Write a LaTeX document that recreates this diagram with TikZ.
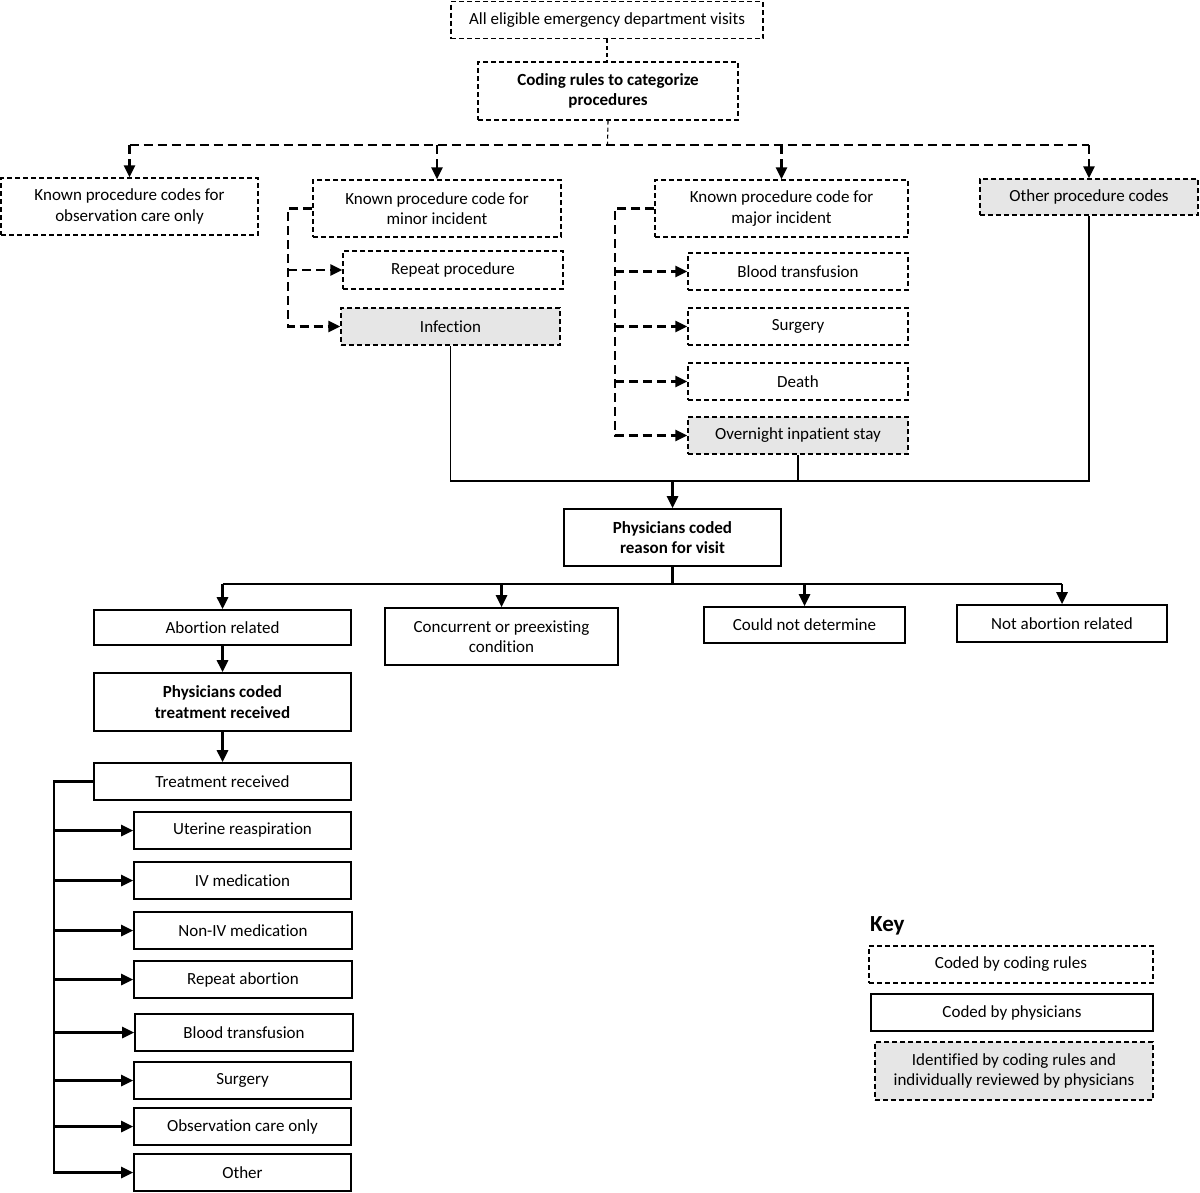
\documentclass[tikz,border=0pt]{standalone}
\usepackage{fontspec}
\setmainfont{Carlito}[Ligatures={NoCommon}]
\usetikzlibrary{arrows.meta}
\definecolor{boxgray}{HTML}{E6E6E6}
\tikzset{
  box/.style={draw=black, line width=1.4pt, inner sep=0pt, align=center,
    font=\fontsize{17}{20.5}\selectfont},
  dbox/.style={box, dash pattern=on 5pt off 3pt},
  gbox/.style={dbox, fill=boxgray},
  sbox/.style={box, line width=1.6pt},
  boldtxt/.style={font=\fontsize{17}{20.5}\selectfont\bfseries},
  tri/.style={-{Triangle[length=12pt,width=11pt]}},
  tdash/.style={line width=2.6pt, dash pattern=on 9pt off 5pt},
  thinline/.style={line width=1.1pt},
  thickline/.style={line width=2.6pt},
}
\begin{document}
\begin{tikzpicture}[x=1pt,y=-1pt]
\useasboundingbox (0,0) rectangle (1200,1192);
% top
\node[dbox, minimum width=312, minimum height=37] (top) at (607,20) {All eligible emergency department visits};
\node[dbox, boldtxt, minimum width=260, minimum height=58] (coding) at (608,91) {Coding rules to categorize\\procedures};
% level 2
\node[dbox, minimum width=257, minimum height=57] (obs) at (129.5,206.5) {Known procedure codes for\\observation care only};
\node[dbox, minimum width=248, minimum height=57] (minor) at (437,208.5) {Known procedure code for\\minor incident};
\node[dbox, minimum width=220, minimum height=38] (repeat) at (453,270) {Repeat procedure};
\node[gbox, minimum width=219, minimum height=37] (infection) at (450.5,326.5) {Infection};
\node[dbox, minimum width=253, minimum height=57] (major) at (781.5,208.5) {Known procedure code for\\major incident};
\node[dbox, minimum width=220, minimum height=37] (blood) at (798,271.5) {Blood transfusion};
\node[dbox, minimum width=220, minimum height=37] (surgery) at (798,326.5) {Surgery};
\node[dbox, minimum width=220, minimum height=37] (death) at (798,381.5) {Death};
\node[gbox, minimum width=220, minimum height=37] (overnight) at (798,435.5) {Overnight inpatient stay};
\node[gbox, minimum width=218, minimum height=36] (other) at (1089,197) {Other procedure codes};
% physicians
\node[sbox, boldtxt, minimum width=217, minimum height=57] (phys) at (672.5,537.5) {Physicians coded\\reason for visit};
\node[sbox, minimum width=257, minimum height=35] (abortion) at (222.5,627.5) {Abortion related};
\node[sbox, minimum width=233, minimum height=57] (concurrent) at (501.5,636.5) {Concurrent or preexisting\\condition};
\node[sbox, minimum width=201, minimum height=36] (could) at (804.5,625) {Could not determine};
\node[sbox, minimum width=210, minimum height=37] (notab) at (1062,623.5) {Not abortion related};
\node[sbox, boldtxt, minimum width=257, minimum height=58] (phys2) at (222.5,702) {Physicians coded\\treatment received};
\node[sbox, minimum width=257, minimum height=37] (treat) at (222.5,781.5) {Treatment received};
% treatments
\node[sbox, minimum width=217, minimum height=37] (t1) at (242.5,830.5) {Uterine reaspiration};
\node[sbox, minimum width=217, minimum height=37] (t2) at (242.5,880.5) {IV medication};
\node[sbox, minimum width=218, minimum height=37] (t3) at (243,930.5) {Non-IV medication};
\node[sbox, minimum width=218, minimum height=37] (t4) at (243,979.5) {Repeat abortion};
\node[sbox, minimum width=218, minimum height=37] (t5) at (244,1032.5) {Blood transfusion};
\node[sbox, minimum width=217, minimum height=37] (t6) at (242.5,1080.5) {Surgery};
\node[sbox, minimum width=217, minimum height=37] (t7) at (242.5,1126.5) {Observation care only};
\node[sbox, minimum width=217, minimum height=37] (t8) at (242.5,1172.5) {Other};
% key
\node[anchor=west, inner sep=0pt, font=\fontsize{23}{27}\selectfont\bfseries] (keytitle) at (870,926) {Key};
\node[dbox, minimum width=284, minimum height=37] (k1) at (1011,964.5) {Coded by coding rules};
\node[sbox, minimum width=282, minimum height=37] (k2) at (1012,1012.5) {Coded by physicians};
\node[gbox, minimum width=278, minimum height=58] (k3) at (1014,1071) {Identified by coding rules and\\individually reviewed by physicians};

% connectors: top
\draw[thinline, dash pattern=on 4pt off 3pt] (top.south) -- (top.south |- coding.north);
\coordinate (bus) at (607.5,145);
\draw[thinline, dash pattern=on 4pt off 3pt] (coding.south) -- (bus);
\draw[tdash] (obs.north |- bus) -- (other.north |- bus);
\draw[tdash, tri] (obs.north |- bus) -- (obs.north);
\draw[tdash, tri] (minor.north |- bus) -- (minor.north);
\draw[tdash, tri] (major.north |- bus) -- (major.north);
\draw[tdash, tri] (other.north |- bus) -- (other.north);
% minor branch
\coordinate (mtr) at (288,0);
\draw[tdash, tri] (minor.west) -- (minor.west -| mtr) |- (infection.west);
\draw[tdash, tri] (repeat.west -| mtr) -- (repeat.west);
% major branch
\coordinate (Mtr) at (615,0);
\draw[tdash, tri] (major.west) -- (major.west -| Mtr) |- (overnight.west);
\draw[tdash, tri] (blood.west -| Mtr) -- (blood.west);
\draw[tdash, tri] (surgery.west -| Mtr) -- (surgery.west);
\draw[tdash, tri] (death.west -| Mtr) -- (death.west);
% into physicians
\coordinate (J2) at (672.5,481);
\draw[thinline] (infection.south) |- (J2);
\draw[thinline] (overnight.south) -- (overnight.south |- J2);
\draw[thickline] (other.south) |- (J2);
\draw[thickline, tri] (J2) -- (phys.north);
% reason branches
\coordinate (J3) at (672.5,584);
\draw[thickline] (phys.south) -- (J3);
\draw[thickline] (abortion.north |- J3) -- (notab.north |- J3);
\draw[thickline, tri] (abortion.north |- J3) -- (abortion.north);
\draw[thickline, tri] (concurrent.north |- J3) -- (concurrent.north);
\draw[thickline, tri] (could.north |- J3) -- (could.north);
\draw[thickline, tri] (notab.north |- J3) -- (notab.north);
\draw[thickline, tri] (abortion.south) -- (phys2.north);
\draw[thickline, tri] (phys2.south) -- (treat.north);
% treatment branch
\coordinate (ttr) at (54,0);
\draw[thickline, tri] (treat.west) -- (treat.west -| ttr) |- (t8.west);
\foreach \t in {t1,t2,t3,t4,t5,t6,t7}
  \draw[thickline, tri] (\t.west -| ttr) -- (\t.west);
\end{tikzpicture}
\end{document}
